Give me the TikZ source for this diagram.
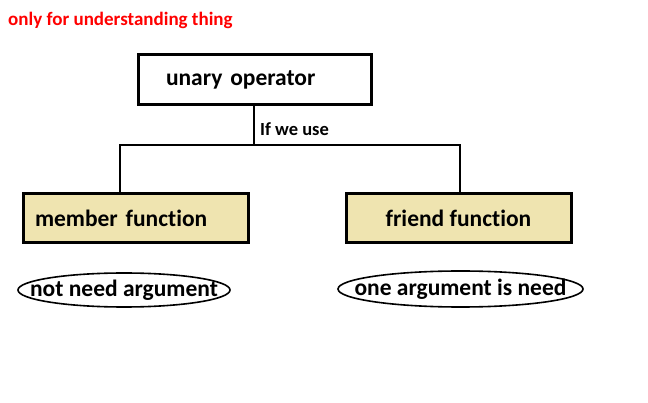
\documentclass[tikz,border=0pt]{standalone}
\usepackage{fontspec}
\setmainfont[Ligatures={NoCommon}]{Carlito}
\usetikzlibrary{shapes.geometric}
\definecolor{beige}{HTML}{EFE4B0}
\tikzset{
 boxs/.style={draw=black,line width=3pt,minimum width=235pt,minimum height=50pt,font=\bfseries\fontsize{23.5}{26}\selectfont},
 ell/.style={draw=black,ellipse,line width=1.6pt,inner sep=0pt,font=\bfseries\fontsize{23.5}{26}\selectfont},
 conn/.style={line width=1.6pt}
}
\begin{document}
\begin{tikzpicture}[x=1pt,y=-1pt]
\useasboundingbox[fill=white] (0,0) rectangle (648,403);
\node[anchor=west,text=red,font=\bfseries\fontsize{19}{21}\selectfont,inner sep=0pt] (t) at (8,20) {only for understanding thing};
\node[boxs,fill=white,minimum width=233pt,text width=205pt,align=left] (u) at (254.5,80) {\hspace*{14pt}unary operator};
\node[boxs,fill=beige,minimum width=225pt,minimum height=49pt,text width=201pt,align=left] (m) at (135.5,218.5) {member function};
\node[boxs,fill=beige,minimum width=225pt,minimum height=49pt] (f) at (458.5,218.5) {friend function};
\coordinate (j) at (254,145);
\draw[conn] (u.south -| j) -- (j);
\draw[conn] (m.north -| 120,0) |- (j) -| (f.north -| 460,0);
\node[anchor=west,font=\bfseries\fontsize{18.5}{20}\selectfont,inner sep=0pt] (w) at (260,129) {If we use};
\node[ell,minimum width=212pt,minimum height=34pt] (e1) at (124,290) {\makebox[0pt]{not need argument}};
\node[ell,minimum width=245pt,minimum height=36pt] (e2) at (460.5,289) {\makebox[0pt]{one argument is need}};
\end{tikzpicture}
\end{document}
